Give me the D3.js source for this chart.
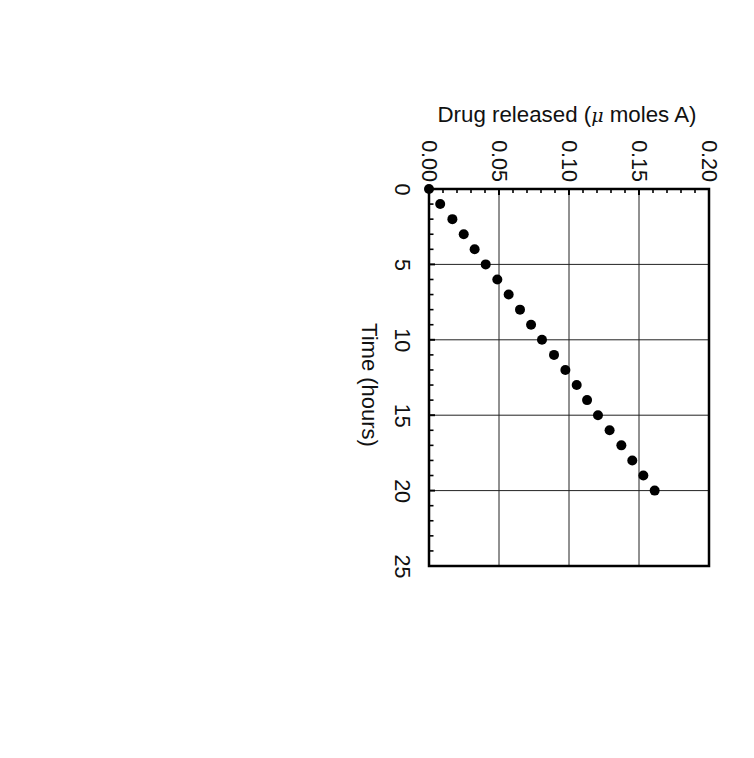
<!DOCTYPE html>
<html><head><meta charset="utf-8">
<script src="https://cdn.jsdelivr.net/npm/d3@7"></script>
<style>body{margin:0;background:#fff}text{font-family:"Liberation Sans",Arial,sans-serif;fill:#111}</style>
</head><body>
<svg id="c" width="754" height="758"></svg>
<script>
const times = [0,1,2,3,4,5,6,7,8,9,10,11,12,13,14,15,16,17,18,19,20];
const released = [0,0.008,0.0167,0.0248,0.0326,0.0405,0.0488,0.0569,0.065,0.0729,0.0807,0.0893,0.0974,0.1055,0.1129,0.1207,0.129,0.1374,0.1452,0.1531,0.1612];
const drugTicks = [0,0.05,0.10,0.15,0.20];
const drugMinor = [0.01,0.02,0.03,0.04,0.06,0.07,0.08,0.09,0.11,0.12,0.13,0.14,0.16,0.17,0.18,0.19];
const timeTicks = [0,5,10,15,20,25];
const timeMinor = [1,2,3,4,6,7,8,9,11,12,13,14,16,17,18,19,21,22,23,24];
const drugTitle = "Drug released (";
const timeTitle = "Time (hours)";

const svg = d3.select("#c");
const L=429,R=709,T=189,B=566;
const x = d3.scaleLinear().domain([0,0.2]).range([L,R]);
const y = d3.scaleLinear().domain([0,25]).range([T,B]);

// gridlines
svg.append("g").selectAll("line").data(drugTicks.slice(1,-1)).join("line")
  .attr("x1",d=>x(d)).attr("x2",d=>x(d)).attr("y1",T).attr("y2",B)
  .attr("stroke","#222").attr("stroke-width",1);
svg.append("g").selectAll("line").data(timeTicks.slice(1,-1)).join("line")
  .attr("y1",d=>y(d)).attr("y2",d=>y(d)).attr("x1",L).attr("x2",R)
  .attr("stroke","#222").attr("stroke-width",1);

// minor ticks (inward)
svg.append("g").selectAll("line").data(drugMinor).join("line")
  .attr("x1",d=>x(d)).attr("x2",d=>x(d)).attr("y1",T).attr("y2",T+4)
  .attr("stroke","#000").attr("stroke-width",1.6);
svg.append("g").selectAll("line").data(timeMinor).join("line")
  .attr("y1",d=>y(d)).attr("y2",d=>y(d)).attr("x1",L).attr("x2",L+4.5)
  .attr("stroke","#000").attr("stroke-width",1.6);
// major ticks
svg.append("g").selectAll("line").data(drugTicks).join("line")
  .attr("x1",d=>x(d)).attr("x2",d=>x(d)).attr("y1",T).attr("y2",T+6)
  .attr("stroke","#000").attr("stroke-width",2);
svg.append("g").selectAll("line").data(timeTicks).join("line")
  .attr("y1",d=>y(d)).attr("y2",d=>y(d)).attr("x1",L).attr("x2",L+6)
  .attr("stroke","#000").attr("stroke-width",2);

// axes labels via d3 axes
const topAxis = svg.append("g").attr("transform",`translate(0,${T})`)
  .call(d3.axisTop(x).tickValues(drugTicks).tickFormat(d3.format(".2f")).tickSize(0));
topAxis.select(".domain").remove();
topAxis.selectAll("text")
  .attr("transform","rotate(90)").attr("x",-7).attr("y",7.7).attr("dy",null)
  .attr("text-anchor","end").style("font-size","21.5px")
  .style("font-family","'Liberation Sans',Arial,sans-serif").attr("fill","#111");

const leftAxis = svg.append("g").attr("transform",`translate(${L},0)`)
  .call(d3.axisLeft(y).tickValues(timeTicks).tickFormat(d3.format("d")).tickSize(0));
leftAxis.select(".domain").remove();
leftAxis.selectAll("text")
  .attr("transform","rotate(90)").attr("x",0).attr("y",34).attr("dy",null)
  .attr("text-anchor","middle").style("font-size","21.5px")
  .style("font-family","'Liberation Sans',Arial,sans-serif").attr("fill","#111");

// frame
svg.append("rect").attr("x",L).attr("y",T).attr("width",R-L).attr("height",B-T)
  .attr("fill","none").attr("stroke","#000").attr("stroke-width",2.5);

// points
svg.append("g").selectAll("circle").data(times).join("circle")
  .attr("cx",(d,i)=>x(released[i])).attr("cy",d=>y(d)).attr("r",5).attr("fill","#000");

// titles
const t1 = svg.append("text").attr("x",(L+R)/2-2).attr("y",122).attr("text-anchor","middle").style("font-size","22.3px");
t1.append("tspan").text(drugTitle);
t1.append("tspan").style("font-style","italic").style("font-family","'DejaVu Serif',serif").style("font-size","19px").text("μ");
t1.append("tspan").text(" moles A)");

svg.append("text").attr("transform",`translate(362,385) rotate(90)`).attr("text-anchor","middle")
  .style("font-size","22px").text(timeTitle);
</script>
</body></html>
